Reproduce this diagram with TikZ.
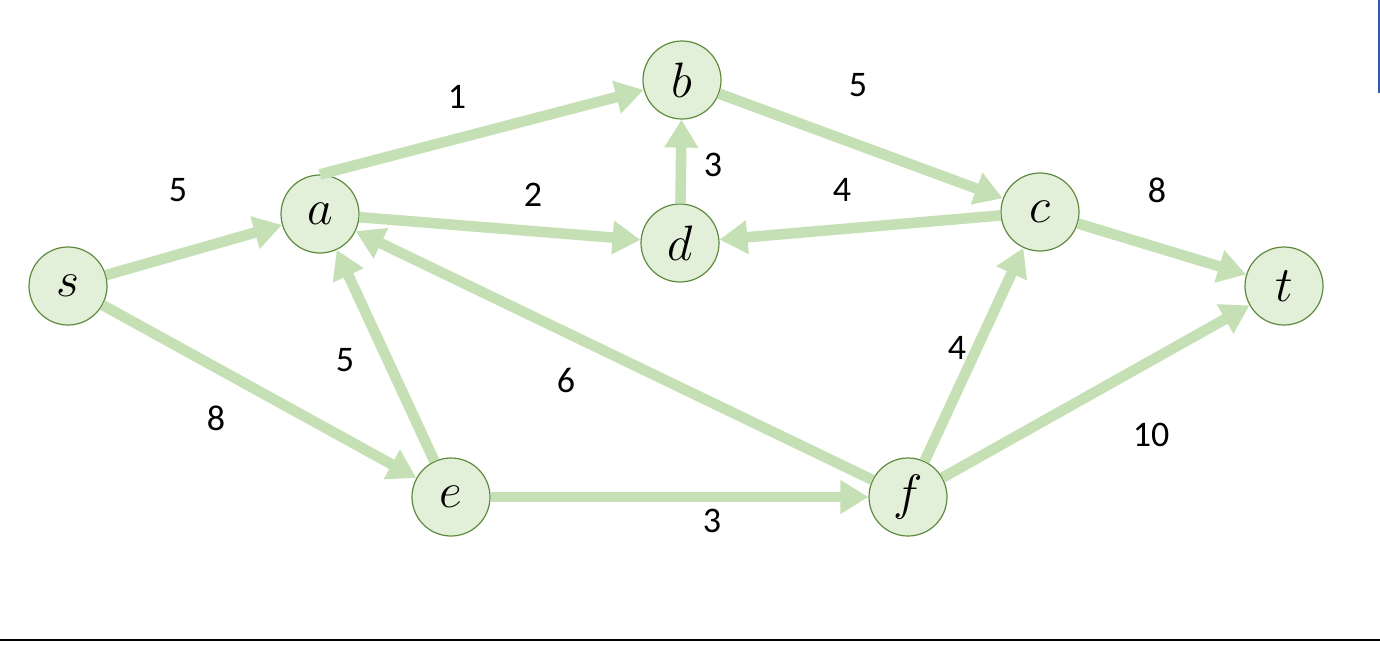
\documentclass[tikz,border=0pt]{standalone}
\usepackage{fontspec}
\setmainfont{Carlito}
\usetikzlibrary{arrows.meta}
\definecolor{edgec}{HTML}{C5E0B4}
\definecolor{nodef}{HTML}{E2EFD9}
\definecolor{nodeb}{HTML}{5E8A3E}
\definecolor{blu}{HTML}{2F5BB7}
\tikzset{
 vtx/.style={circle,draw=nodeb,line width=0.6pt,fill=nodef,minimum size=39pt,inner sep=0pt,font=\fontsize{24}{24}\selectfont},
 edg/.style={draw=edgec,line width=5.3pt,-{Triangle[width=16pt,length=14pt]}},
 lbl/.style={font=\fontsize{18}{18}\selectfont}
}
\begin{document}
\begin{tikzpicture}[x=0.5pt,y=-0.5pt]
\useasboundingbox (0,0) rectangle (1380,644);
\fill[white] (0,0) rectangle (1380,644);
\draw[black,line width=1.2pt] (0,640) -- (1380,640);
\draw[blu,line width=1.2pt] (1379,0) -- (1379,93);
\node[vtx] (s) at (68,286) {$s$};
\node[vtx] (a) at (320,214) {$a$};
\node[vtx] (b) at (682,80) {$b$};
\node[vtx] (d) at (680,243) {$d$};
\node[vtx] (c) at (1040,212) {$c$};
\node[vtx] (t) at (1284,286) {$t$};
\node[vtx] (e) at (451,497) {$e$};
\node[vtx] (f) at (908,497) {$f$};
\draw[edg] (s) -- (a);
\draw[edg] (s) -- (e);
\draw[edg] (a.north) -- (b);
\draw[edg] (a) -- (d);
\draw[edg] (d) -- (b);
\draw[edg] (b) -- (c);
\draw[edg] (c) -- (d);
\draw[edg] (c) -- (t);
\draw[edg] (e) -- (a);
\draw[edg] (e) -- (f);
\draw[edg] (f) -- (a);
\draw[edg] (f) -- (c);
\draw[edg] (f) -- (t);
\node[lbl] (l1) at (178,190) {5};
\node[lbl] (l2) at (216,418) {8};
\node[lbl] (l3) at (457,97) {1};
\node[lbl] (l4) at (533,195) {2};
\node[lbl] (l5) at (713,165) {3};
\node[lbl] (l6) at (858,85) {5};
\node[lbl] (l7) at (842,190) {4};
\node[lbl] (l8) at (1157,190) {8};
\node[lbl] (l9) at (345,360) {5};
\node[lbl] (l10) at (566,380) {6};
\node[lbl] (l11) at (957,348) {4};
\node[lbl] (l12) at (1151,435) {10};
\node[lbl] (l13) at (712,521) {3};
\end{tikzpicture}
\end{document}
